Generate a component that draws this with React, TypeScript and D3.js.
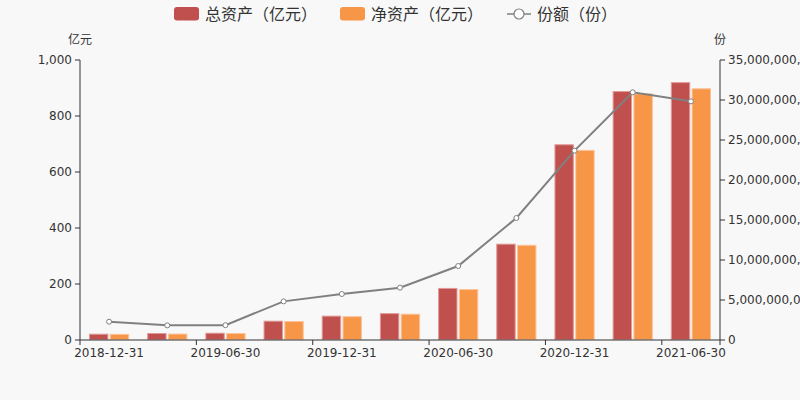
import React from 'react';
import * as d3 from 'd3';

const categories = ['2018-12-31', '2019-03-31', '2019-06-30', '2019-09-30', '2019-12-31', '2020-03-31', '2020-06-30', '2020-09-30', '2020-12-31', '2021-03-31', '2021-06-30'];
const totalAssets = [22.5, 25, 26, 69, 87, 96, 186, 344, 699, 889, 921];
const netAssets = [22, 23, 25, 68, 85, 94, 182, 340, 679, 881, 899];
const shares = [2.29e9, 1.83e9, 1.85e9, 4.83e9, 5.75e9, 6.54e9, 9.25e9, 15.25e9, 23.67e9, 30.96e9, 29.83e9];
const leftTicks = [0, 200, 400, 600, 800, 1000];
const rightTicks = [0, 5e9, 10e9, 15e9, 20e9, 25e9, 30e9, 35e9];
const legendLabels = ['总资产（亿元）', '净资产（亿元）', '份额（份）'];

const W = 800, H = 400;
const L = 80, R = 720, T = 60, B = 340;
const FONT = '"DejaVu Sans", "Noto Sans CJK SC", sans-serif';
const RED = '#c0504d', ORANGE = '#f79646', GREY = '#808080', AX = '#333';

export default function App() {
  const x = d3.scaleBand<string>().domain(categories).range([L, R]).padding(0);
  const yL = d3.scaleLinear().domain([0, 1000]).range([B, T]);
  const yR = d3.scaleLinear().domain([0, 35e9]).range([B, T]);
  const bw = x.bandwidth();
  const barW = 19.4, gap = 1.4;
  const cx = (c: string) => (x(c) as number) + bw / 2;
  const line = d3.line<number>().x((_, i) => cx(categories[i])).y(d => yR(d));
  const fmt = d3.format(',');

  return (
    <svg width={W} height={H} style={{ position: 'fixed', left: 0, top: 0, background: '#f8f8f8' }} fontFamily={FONT}>
      <rect x={0} y={0} width={W} height={H} fill="#f8f8f8" />
      {/* legend */}
      <g>
        <rect x={174} y={7} width={25} height={13.5} rx={3} fill={RED} />
        <text x={205} y={20} fontSize={16} fill="#333">{legendLabels[0]}</text>
        <rect x={340} y={7} width={25} height={13.5} rx={3} fill={ORANGE} />
        <text x={371} y={20} fontSize={16} fill="#333">{legendLabels[1]}</text>
        <line x1={507} x2={531} y1={14} y2={14} stroke={GREY} strokeWidth={1.5} />
        <circle cx={519} cy={14} r={5} fill="#fff" stroke={GREY} strokeWidth={1.2} />
        <text x={537} y={20} fontSize={16} fill="#333">{legendLabels[2]}</text>
      </g>
      {/* axis titles */}
      <text x={68} y={44} fontSize={12} fill="#333">亿元</text>
      <text x={714} y={44} fontSize={12} fill="#333">份</text>
      {/* bars */}
      {categories.map((c, i) => {
        const c0 = cx(c);
        return (
          <g key={c}>
            <rect x={c0 - gap / 2 - barW + 0.5} y={yL(totalAssets[i]) + 0.5} width={barW - 1} height={Math.max(0, B - yL(totalAssets[i]) - 1)} fill={RED} stroke="#e09a98" strokeWidth={1} />
            <rect x={c0 + gap / 2 + 0.5} y={yL(netAssets[i]) + 0.5} width={barW - 1} height={Math.max(0, B - yL(netAssets[i]) - 1)} fill={ORANGE} stroke="#fbc39a" strokeWidth={1} />
          </g>
        );
      })}
      {/* axes */}
      <line x1={L} x2={L} y1={T} y2={B} stroke={AX} />
      <line x1={R} x2={R} y1={T} y2={B} stroke={AX} />
      <line x1={L} x2={R} y1={B} y2={B} stroke={AX} />
      {leftTicks.map(t => (
        <g key={'l' + t}>
          <line x1={L - 5} x2={L} y1={yL(t)} y2={yL(t)} stroke={AX} />
          <text x={L - 8} y={yL(t)} dy="0.35em" textAnchor="end" fontSize={12} fill="#333">{fmt(t)}</text>
        </g>
      ))}
      {rightTicks.map(t => (
        <g key={'r' + t}>
          <line x1={R} x2={R + 5} y1={yR(t)} y2={yR(t)} stroke={AX} />
          <text x={R + 8} y={yR(t)} dy="0.35em" textAnchor="start" fontSize={12} fill="#333">{fmt(t)}</text>
        </g>
      ))}
      {categories.map((c, i) => i % 2 === 0 ? (
        <g key={'x' + c}>
          <line x1={x(c) as number} x2={x(c) as number} y1={B} y2={B + 5} stroke={AX} />
          <text x={cx(c)} y={B + 17} textAnchor="middle" fontSize={12} fill="#333">{c}</text>
        </g>
      ) : null)}
      <line x1={R} x2={R} y1={B} y2={B + 5} stroke={AX} />
      {/* line */}
      <path d={line(shares) || ''} fill="none" stroke={GREY} strokeWidth={2} />
      {shares.map((s, i) => (
        <circle key={'p' + i} cx={cx(categories[i])} cy={yR(s)} r={2.5} fill="#fff" stroke={GREY} strokeWidth={1} />
      ))}
    </svg>
  );
}
